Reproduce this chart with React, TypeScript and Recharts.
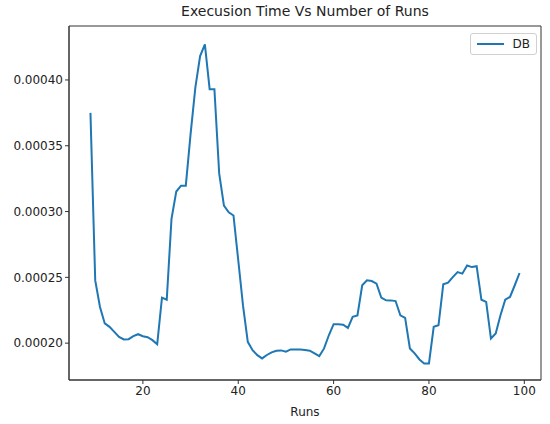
import React from 'react';
import { LineChart, Line, XAxis, YAxis, Legend, ReferenceArea } from 'recharts';

// runs 9..99
const runs: number[] = Array.from({ length: 91 }, (_, i) => i + 9);

const dbTimes: number[] = [
  0.000375, 0.0002477, 0.0002275, 0.000215, 0.0002124, 0.0002086, 0.0002048, 0.0002028, 0.000203, 0.0002053,
  0.0002068, 0.0002053, 0.0002045, 0.0002023, 0.0001992, 0.0002346, 0.000233, 0.0002945, 0.0003152, 0.0003197,
  0.0003197, 0.0003589, 0.0003942, 0.0004182, 0.000427, 0.000393, 0.000393, 0.000329, 0.0003045, 0.0002995,
  0.000297, 0.000263, 0.0002285, 0.000201, 0.0001947, 0.0001909, 0.0001884, 0.000191, 0.000193, 0.0001942,
  0.0001945, 0.0001935, 0.0001952, 0.0001952, 0.0001952, 0.0001948, 0.0001943, 0.0001922, 0.0001902, 0.000196,
  0.000206, 0.0002144, 0.0002144, 0.000214, 0.0002116, 0.00022, 0.000221, 0.000244, 0.0002477, 0.0002472,
  0.0002452, 0.0002346, 0.0002326, 0.0002325, 0.000232, 0.0002212, 0.0002192, 0.000196, 0.0001922, 0.0001876,
  0.0001846, 0.0001846, 0.0002124, 0.0002136, 0.0002447, 0.000246, 0.0002502, 0.000254, 0.0002528, 0.000259,
  0.0002578, 0.0002585, 0.000233, 0.0002313, 0.0002035, 0.0002073, 0.0002212, 0.000233, 0.0002351, 0.000244,
  0.0002533,
];

const xTicks = [20, 40, 60, 80, 100];
const yTicks = [0.0002, 0.00025, 0.0003, 0.00035, 0.0004];

const xDomain: [number, number] = [4.5, 103.5];
const yDomain: [number, number] = [0.000172, 0.000441];

const data = runs.map((r, i) => ({ run: r, DB: dbTimes[i] }));

const FONT = 'DejaVu Sans, sans-serif';
const AXIS = '#333333';
const BLUE = '#1f77b4';

const LegendBox = () => (
  <div
    style={{
      border: '1px solid #d0d0d0',
      borderRadius: 3,
      background: '#fff',
      padding: '3px 6px',
      display: 'flex',
      alignItems: 'center',
      fontFamily: FONT,
      fontSize: 12,
      color: '#222',
    }}
  >
    <span style={{ width: 27, height: 2, background: BLUE, display: 'inline-block', marginRight: 9 }} />
    DB
  </div>
);

export default function App() {
  return (
    <div style={{ position: 'absolute', left: 0, top: 0, width: 550, height: 424, background: '#fff' }}>
      <div
        style={{
          position: 'absolute',
          top: 3,
          left: 69,
          width: 472,
          textAlign: 'center',
          fontFamily: FONT,
          fontSize: 14,
          color: '#222',
        }}
      >
        Execusion Time Vs Number of Runs
      </div>
      <LineChart width={550} height={424} data={data} margin={{ top: 26, right: 9, bottom: 0, left: 0 }}>
        <XAxis
          dataKey="run"
          type="number"
          domain={xDomain}
          ticks={xTicks}
          allowDataOverflow
          height={44}
          stroke={AXIS}
          tickSize={4}
          tick={{ fill: '#222', fontSize: 12, fontFamily: FONT }}
          label={{ value: 'Runs', position: 'insideBottom', offset: 8, fill: '#222', fontSize: 12, fontFamily: FONT }}
        />
        <YAxis
          type="number"
          domain={yDomain}
          ticks={yTicks}
          allowDataOverflow
          width={69}
          stroke={AXIS}
          tickSize={4}
          tickFormatter={(v: number) => v.toFixed(5)}
          tick={{ fill: '#222', fontSize: 12, fontFamily: FONT }}
        />
        <ReferenceArea
          x1={xDomain[0]}
          x2={xDomain[1]}
          y1={yDomain[0]}
          y2={yDomain[1]}
          fill="none"
          fillOpacity={0}
          stroke={AXIS}
          strokeWidth={1}
          ifOverflow="visible"
        />
        <Legend
          layout="horizontal"
          verticalAlign="middle"
          align="center"
          wrapperStyle={{ top: 33, right: 13, left: 'auto', width: 'auto' }}
          content={() => <LegendBox />}
        />
        <Line
          type="linear"
          dataKey="DB"
          stroke={BLUE}
          strokeWidth={2}
          dot={false}
          isAnimationActive={false}
        />
      </LineChart>
    </div>
  );
}
